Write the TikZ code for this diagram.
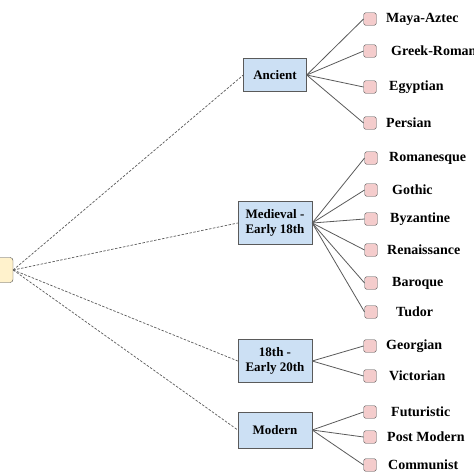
\documentclass[tikz,border=0pt]{standalone}
\usepackage{fontspec}
\setmainfont{Liberation Serif}
\definecolor{EraBlue}{HTML}{CCE0F4}
\definecolor{LeafPink}{HTML}{F4CCCC}
\definecolor{RootCream}{HTML}{FFF2CC}
\definecolor{LineGray}{HTML}{5A5A5A}
\usetikzlibrary{arrows.meta, positioning, shapes}

\begin{document}
\begin{tikzpicture}[x=1pt, y=-1pt,
                rootbox/.style={draw=LineGray!80!black, rectangle, rounded corners=3pt, fill=RootCream, minimum width=26pt, minimum height=25pt},
                era/.style={draw=LineGray, rectangle, fill=EraBlue, minimum width=74pt, minimum height=43pt, align=center, font=\bfseries\fontsize{13}{15.5}\selectfont},
                leaf/.style={draw=LineGray!80!black, rectangle, rounded corners=2pt, fill=LeafPink, minimum size=12.5pt, inner sep=0pt},
                itemtext/.style={anchor=west, inner sep=0pt, font=\bfseries\fontsize{14}{16}\selectfont},
                link/.style={LineGray, dash pattern=on 2.5pt off 1.5pt, line width=0.7pt},
                edge/.style={LineGray, line width=0.8pt}]

                \useasboundingbox (0,0) rectangle (474,474);

                % Root node
                \node[rootbox] (root) at (0,270) {};

                % Eras
                \node[era, minimum width=63pt, minimum height=33pt] (ancient) at (275,75) {Ancient};
                \node[era] (medieval) at (275,223) {Medieval -\\Early 18th};
                \node[era] (georg) at (275,361) {18th -\\Early 20th};
                \node[era, minimum height=36pt] (modern) at (275,430) {Modern};

                % Leaves
                \node[leaf] (maya) at (370,19) {};
                \node[leaf] (greek) at (370,51) {};
                \node[leaf] (egypt) at (370,87) {};
                \node[leaf] (persia) at (370,123) {};
                \node[leaf] (roman) at (371,158) {};
                \node[leaf] (gothic) at (371,190) {};
                \node[leaf] (byzant) at (371,219) {};
                \node[leaf] (renais) at (371,250) {};
                \node[leaf] (baroque) at (371,283) {};
                \node[leaf] (tudor) at (371,312) {};
                \node[leaf] (georgian) at (370,346) {};
                \node[leaf] (victor) at (370,376) {};
                \node[leaf] (futur) at (370,412) {};
                \node[leaf] (postmod) at (370,437) {};
                \node[leaf] (commun) at (370,465) {};

                % Leaf names
                \node[itemtext] (tmaya) at (386,19) {Maya-Aztec};
                \node[itemtext] (tgreek) at (391,51) {Greek-Roman};
                \node[itemtext] (tegypt) at (389,87) {Egyptian};
                \node[itemtext] (tpersia) at (386,123) {Persian};
                \node[itemtext] (troman) at (389,158) {Romanesque};
                \node[itemtext] (tgothic) at (392,190) {Gothic};
                \node[itemtext] (tbyzant) at (390,219) {Byzantine};
                \node[itemtext] (trenais) at (387,250) {Renaissance};
                \node[itemtext] (tbaroque) at (392,283) {Baroque};
                \node[itemtext] (ttudor) at (396,312) {Tudor};
                \node[itemtext] (tgeorgian) at (386,346) {Georgian};
                \node[itemtext] (tvictor) at (389,376) {Victorian};
                \node[itemtext] (tfutur) at (391,412) {Futuristic};
                \node[itemtext] (tpostmod) at (387,437) {Post Modern};
                \node[itemtext] (tcommun) at (388,465) {Communist};

                % Root links
                \draw[link] (root.east) -- (ancient.west);
                \draw[link] (root.east) -- (medieval.west);
                \draw[link] (root.east) -- (georg.west);
                \draw[link] (root.east) -- (modern.west);

                % Edges
                \draw[edge] (ancient.east) -- (maya.west);
                \draw[edge] (ancient.east) -- (greek.west);
                \draw[edge] (ancient.east) -- (egypt.west);
                \draw[edge] (ancient.east) -- (persia.west);
                \draw[edge] (medieval.east) -- (roman.west);
                \draw[edge] (medieval.east) -- (gothic.west);
                \draw[edge] (medieval.east) -- (byzant.west);
                \draw[edge] (medieval.east) -- (renais.west);
                \draw[edge] (medieval.east) -- (baroque.west);
                \draw[edge] (medieval.east) -- (tudor.west);
                \draw[edge] (georg.east) -- (georgian.west);
                \draw[edge] (georg.east) -- (victor.west);
                \draw[edge] (modern.east) -- (futur.west);
                \draw[edge] (modern.east) -- (postmod.west);
                \draw[edge] (modern.east) -- (commun.west);
            \end{tikzpicture}
\end{document}
